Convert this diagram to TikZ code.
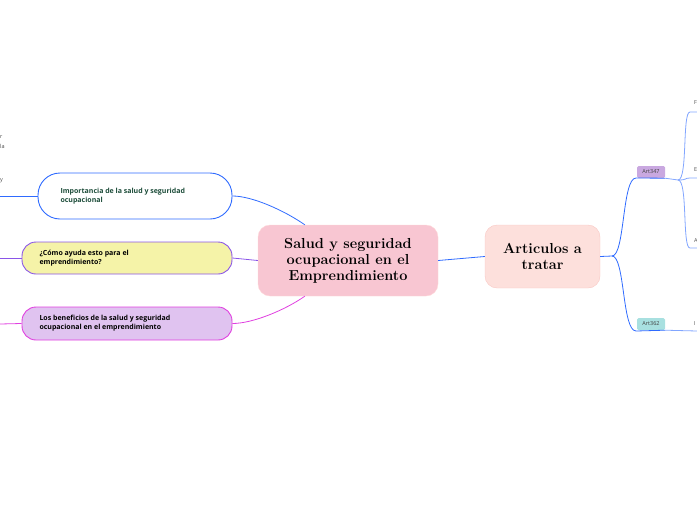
\documentclass[tikz,border=0pt]{standalone}
\usepackage{fontspec}
\newfontfamily\os{Open Sans}
\newfontfamily\hb{Latin Modern Roman}[BoldFont={* Demi},UprightFont={* Demi}]
\begin{document}
\begin{tikzpicture}[x=1pt,y=-1pt,
  lbl/.style={font=\os\fontsize{7}{9}\selectfont\bfseries,align=left,anchor=west},
  tiny/.style={font=\os\fontsize{5.5}{7}\selectfont,text=black!70,inner sep=0pt,anchor=west},
  art/.style={rounded corners=1.5pt,font=\os\fontsize{5.5}{6}\selectfont,text=black!75,minimum width=28pt,minimum height=12pt,inner sep=0pt},
  big/.style={align=center,font=\fontsize{14.5}{16}\selectfont\bfseries},
  conn/.style={line width=0.8pt}]
\definecolor{bl}{HTML}{2F6BFF}
\definecolor{pu}{HTML}{8A55E8}
\definecolor{mg}{HTML}{E040E0}
\useasboundingbox (0,0) rectangle (697,520);
% main nodes
\node[big,draw=pink!60,fill={rgb,255:red,248;green,198;blue,210},rounded corners=12pt,minimum width=180pt,minimum height=71pt] (c) at (348,260.5) {Salud y seguridad\\ocupacional en el\\Emprendimiento};
\node[big,draw={rgb,255:red,249;green,200;blue,196},fill={rgb,255:red,253;green,224;blue,220},rounded corners=12pt,minimum width=115pt,minimum height=63pt] (a) at (542.5,256.5) {Articulos a\\tratar};
\node[draw=bl,fill=white,rounded corners=22pt,minimum width=194pt,minimum height=46pt,line width=0.9pt] (i) at (135,196) {};
\node[lbl,text={rgb,255:red,29;green,77;blue,58}] at (57,196) {Importancia de la salud y seguridad\\ocupacional};
\node[draw=pu,fill={rgb,255:red,245;green,243;blue,168},rounded corners=14pt,minimum width=210pt,minimum height=32pt,line width=0.9pt] (q) at (127,258) {};
\node[lbl] at (36,258) {¿Cómo ayuda esto para el\\emprendimiento?};
\node[draw=mg,fill={rgb,255:red,224;green,195;blue,240},rounded corners=14pt,minimum width=210pt,minimum height=33pt,line width=0.9pt] (b) at (127,323.5) {};
\node[lbl] at (36,323.5) {Los beneficios de la salud y seguridad\\ocupacional en el emprendimiento};
\node[art,fill={rgb,255:red,201;green,168;blue,224}] (a1) at (651,172) {Art347};
\node[art,fill={rgb,255:red,168;green,224;blue,224}] (a2) at (651,324) {Art362};
% connectors
\draw[conn,bl] (c.north west)+(47,0) .. controls +(-20,-14) and +(20,0) .. (i.east);
\draw[conn,pu] (c.west) -- (q.east);
\draw[conn,mg] (c.south west)+(47,0) .. controls +(-20,14) and +(20,0) .. (b.east);
\coordinate (l1) at (0,196); \coordinate (l2) at (0,258); \coordinate (l3) at (0,324);
\draw[conn,bl] (i.west) -- (l1);
\draw[conn,pu] (q.west) -- (l2);
\draw[conn,mg] (b.west) -- (l3);
\draw[conn,bl] (c.east) -- (a.west);
\coordinate (f) at (612,256);
\draw[conn,bl] (a.east) -- (f);
\draw[conn,bl] (f) .. controls (625,256) and (622,178) .. (636,178) -- (a1.south east);
\draw[conn,bl] (f) .. controls (625,256) and (622,331) .. (636,331) -- (a2.south east);
\coordinate (r1) at (697,112); \coordinate (r2) at (697,178); \coordinate (r3) at (697,248); \coordinate (r4) at (697,331);
\coordinate (fk) at (678,180);
\draw[conn,bl!60] (a1.south east) -- (fk);
\draw[conn,bl!60] (fk) .. controls (688,180) and (682,112) .. (690,112) -- (r1);
\draw[conn,bl!60] (fk) .. controls (688,180) and (684,178) .. (690,178) -- (r2);
\draw[conn,bl!60] (fk) .. controls (688,180) and (682,248) .. (690,248) -- (r3);
\draw[conn,bl!60] (a2.south east) -- (r4);
% cut texts
\node[tiny] at (694,103) {F};
\node[tiny] at (694,170) {E};
\node[tiny] at (694,241) {A};
\node[tiny] at (694,324) {I};
\node[tiny] at (0,137) {r};
\node[tiny] at (0,146) {la};
\node[tiny] at (0,181) {y};
\end{tikzpicture}
\end{document}
